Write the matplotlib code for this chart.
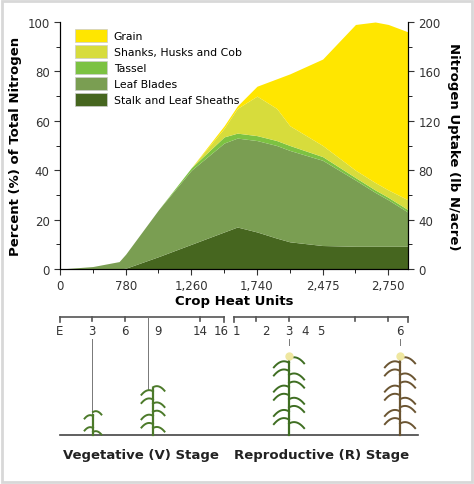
import numpy as np
import matplotlib.pyplot as plt
from matplotlib.patches import Patch, Rectangle

# --- data (x is position on the evenly spaced heat-unit scale) ---
x_pos = [0, 0.5, 0.9, 1.0, 1.5, 2.0, 2.5, 2.7, 3.0, 3.3, 3.5, 4.0, 4.5, 4.8, 5.0, 5.3]
stalk = [0, 0, 0, 0.3, 5, 10, 15, 17, 15, 12.5, 11, 9.5, 9.2, 9.2, 9.2, 9.2]
blades_top = [0, 1, 3, 6, 24, 40, 51, 53, 52, 50, 48, 44, 36, 31, 28, 23]
tassel_top = [0, 1, 3, 6, 24, 41, 53.5, 55, 54, 52, 50, 45.5, 37, 32, 29, 24]
shanks_top = [0, 1, 3, 6, 24, 41, 57, 65, 70, 65, 58, 50, 40, 35, 32, 28]
grain_top = [0, 1, 3, 6, 24, 41, 58, 66, 74, 77, 79, 85, 99, 100, 99, 96]
tick_labels = ["0", "780", "1,260", "1,740", "2,475", "2,750"]
names = ["Grain", "Shanks, Husks and Cob", "Tassel", "Leaf Blades", "Stalk and Leaf Sheaths"]
colors = ["#ffe600", "#d7dc3c", "#7cc242", "#7a9e52", "#46661f"]

v_labels = ["E", "3", "6", "9", "14", "16"]
v_x = [60, 92, 125, 158, 200, 221]
r_labels = ["1", "2", "3", "4", "5", "6"]
r_x = [236, 266, 289, 305, 321, 400]

W, H = 474, 485
fig = plt.figure(figsize=(W / 100, H / 100), dpi=100)
fig.patches.append(Rectangle((0.004, 0.004), 0.992, 0.992, transform=fig.transFigure,
                             fill=False, ec="#d8d8d8", lw=2))

ax = fig.add_axes([60 / W, 1 - 270 / H, 348 / W, 247 / H])
tops = [stalk, blades_top, tassel_top, shanks_top, grain_top]
bottoms = [np.zeros(len(x_pos))] + tops[:-1]
for top, bot, c in zip(tops, bottoms, colors[::-1]):
    ax.fill_between(x_pos, bot, top, color=c, lw=0)
ax.set_xlim(0, 5.3)
ax.set_ylim(0, 100)
ax.set_xticks(range(6))
ax.set_xticklabels(tick_labels, fontsize=8.5, color="#333")
ax.set_xticks(np.arange(0.5, 5.3, 1), minor=True)
ax.set_yticks(range(0, 101, 20))
ax.set_yticks(range(10, 100, 20), minor=True)
ax.tick_params(labelsize=8.5, colors="#333", length=4)
ax.tick_params(which="minor", length=3)
ax.spines["top"].set_visible(False)
ax.set_xlabel("Crop Heat Units", fontsize=9.5, fontweight="bold", labelpad=1)
ax.set_ylabel("Percent (%) of Total Nitrogen", fontsize=9.5, fontweight="bold", labelpad=4)
ax2 = ax.twinx()
ax2.set_ylim(0, 200)
ax2.set_yticks(range(0, 201, 40))
ax2.set_yticks(range(20, 200, 40), minor=True)
ax2.tick_params(labelsize=8.5, colors="#333", length=4)
ax2.tick_params(which="minor", length=3)
ax2.spines["top"].set_visible(False)
ax2.set_ylabel("Nitrogen Uptake (lb N/acre)", fontsize=9.5, fontweight="bold",
               rotation=270, labelpad=14)
handles = [Patch(fc=c, ec="#cccccc", lw=0.5) for c in colors]
ax.legend(handles, names, loc="upper left", bbox_to_anchor=(0.03, 0.99), frameon=False,
          fontsize=7.8, handlelength=3, handleheight=1.5, labelspacing=0.25,
          handletextpad=0.6, borderaxespad=0)

# --- growth stage strip (pixel coordinates) ---
sx = fig.add_axes([0, 0, 1, 1], zorder=-1)
sx.set_xlim(0, W)
sx.set_ylim(H, 0)
sx.axis("off")
k = dict(color="#555", lw=1.2)
sx.plot([60, 224], [318, 318], **k)
sx.plot([234, 408], [318, 318], **k)
for xx in [60, 224, 234, 408]:
    sx.plot([xx, xx], [318, 323], **k)
for xx in [92, 125, 200, 256, 289, 355, 388]:
    sx.plot([xx, xx], [318, 322], **k)
for lab, xx in zip(v_labels, v_x):
    sx.text(xx, 332, lab, ha="center", va="center", fontsize=8.5, color="#333")
for lab, xx in zip(r_labels, r_x):
    sx.text(xx, 332, lab, ha="center", va="center", fontsize=8.5, color="#333")
sx.plot([92, 92], [340, 418], color="#777", lw=0.7)
sx.plot([148, 148], [318, 390], color="#777", lw=0.7)
sx.plot([289, 289], [340, 346], color="#777", lw=0.7)
sx.plot([400, 400], [340, 346], color="#777", lw=0.7)
sx.plot([60, 418], [436, 436], color="#444", lw=1.2)


def plant(x0, top, n, col):
    sx.plot([x0, x0], [436, top], color=col, lw=1.6)
    hgt = 436 - top
    for i in range(n):
        y0 = 436 - hgt * (0.15 + 0.8 * i / max(n - 1, 1))
        side = 1 if i % 2 == 0 else -1
        L = 6 + hgt * 0.12
        t = np.linspace(0, 1, 12)
        sx.plot(x0 + side * L * t, y0 - L * 0.6 * t + L * 0.9 * t ** 2, color=col, lw=1.4)
        sx.plot(x0 - side * L * t, y0 - 4 - L * 0.6 * t + L * 0.9 * t ** 2, color=col, lw=1.4)


plant(93, 416, 2, "#4c7a2a")
plant(153, 390, 4, "#4c7a2a")
plant(289, 360, 6, "#3f6e22")
plant(400, 360, 6, "#6b5532")
sx.scatter([289, 400], [357, 357], s=25, color="#efe7a0", zorder=3)

sx.text(141, 456, "Vegetative (V) Stage", ha="center", va="center", fontsize=9.5, fontweight="bold", color="#222")
sx.text(322, 456, "Reproductive (R) Stage", ha="center", va="center", fontsize=9.5, fontweight="bold", color="#222")

fig.savefig("out.png", dpi=100)
